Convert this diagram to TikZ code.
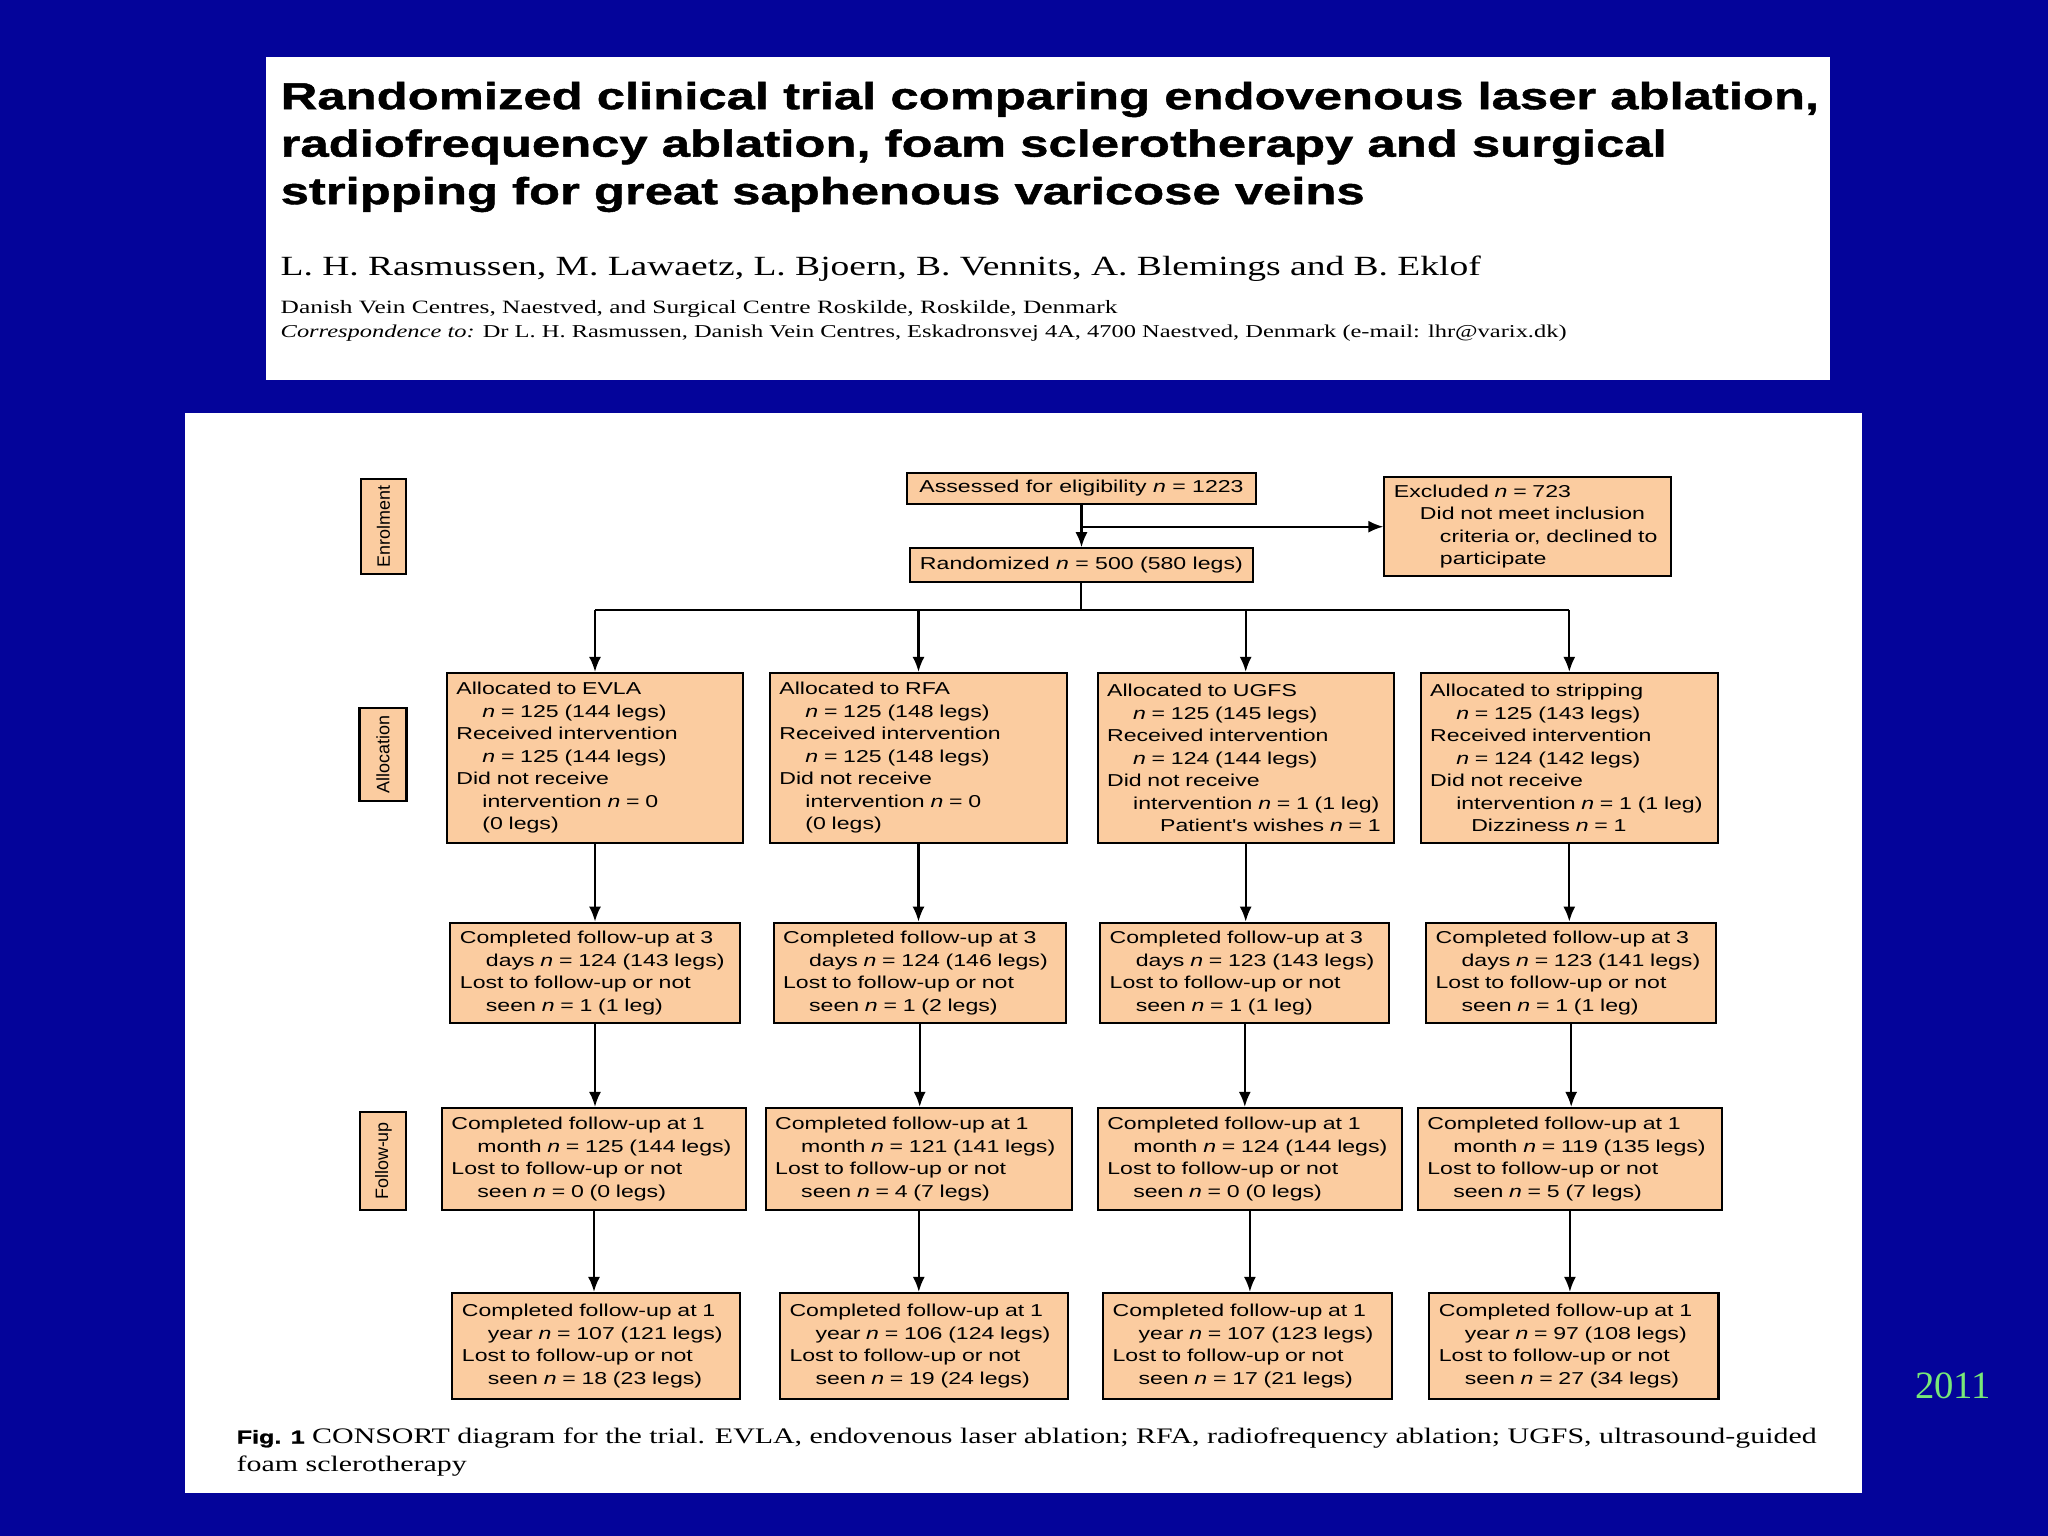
\documentclass[tikz,border=0pt]{standalone}
\usepackage{fontspec}
\usepackage{tikz}
\setmainfont{Liberation Serif}
\newfontfamily\headfont[FakeStretch=1.35, BoldFeatures={FakeBold=1.2}]{Liberation Sans}
\newfontfamily\boxfont[FakeStretch=1.34]{Liberation Sans}
\newfontfamily\paperfont[FakeStretch=1.35]{Liberation Serif}
\newfontfamily\sidefont{Liberation Sans}
\usetikzlibrary{arrows.meta}

\definecolor{slideblue}{RGB}{4,4,154}
\definecolor{peach}{RGB}{251,204,160}
\definecolor{yeargreen}{RGB}{120,232,120}

\newcommand{\nn}{\textit{n}}
\newcommand{\tabin}[1]{\mbox{\hspace*{0.26cm}#1}}

\begin{document}
\begin{tikzpicture}[x=0.01cm, y=-0.01cm,
    box/.style={draw, fill=peach, line width=0.6pt, align=left, inner xsep=0.095cm, inner ysep=0pt,
      font=\boxfont\fontsize{4.9}{6.4}\selectfont},
    stage/.style={draw, fill=peach, line width=0.6pt, rotate=90, inner sep=0pt,
      font=\sidefont\fontsize{5.1}{6}\selectfont},
    link/.style={line width=0.6pt},
    flow/.style={link, -{Latex[length=0.15cm, width=0.12cm]}}]
  % slide and the two white panels
  \fill[slideblue] (0,0) rectangle (2048,1536);
  \fill[white] (266,57) rectangle (1830,380);
  \fill[white] (185,413) rectangle (1862,1493);

  % paper header
  \node[anchor=west, align=left, inner sep=0pt, font=\headfont\bfseries\fontsize{10.7}{13.5}\selectfont] (title) at (280,147)
    {Randomized clinical trial comparing endovenous laser ablation,\\
     radiofrequency ablation, foam sclerotherapy and surgical\\
     stripping for great saphenous varicose veins};
  \node[anchor=west, inner sep=0pt, font=\paperfont\fontsize{7.9}{9}\selectfont] (authors) at (280,269)
    {L. H. Rasmussen, M. Lawaetz, L. Bjoern, B. Vennits, A. Blemings and B. Eklof};
  \node[anchor=west, inner sep=0pt, font=\paperfont\fontsize{5.35}{6.5}\selectfont] (affil) at (280,309)
    {Danish Vein Centres, Naestved, and Surgical Centre Roskilde, Roskilde, Denmark};
  \node[anchor=west, inner sep=0pt, font=\paperfont\fontsize{5.15}{6.5}\selectfont] (corresp) at (280,333)
    {\textit{Correspondence to:} Dr L. H. Rasmussen, Danish Vein Centres, Eskadronsvej 4A, 4700 Naestved, Denmark (e-mail: lhr@varix.dk)};

  % stage labels
  \node[stage, minimum width=0.947cm, minimum height=0.45cm] (enrol) at (383.5,526.7) {Enrolment};
  \node[stage, minimum width=0.924cm, minimum height=0.47cm] (allocation) at (383,754.5) {Allocation};
  \node[stage, minimum width=0.983cm, minimum height=0.46cm] (followup) at (383.4,1160.9) {Follow-up};

  % enrolment
  \node[box, align=center, minimum width=3.495cm, minimum height=0.313cm] (assess) at (1081.5,488.4)
    {Assessed for eligibility \nn{} = 1223};
  \node[box, align=center, minimum width=3.43cm, minimum height=0.34cm] (random) at (1081.4,565.3)
    {Randomized \nn{} = 500 (580 legs)};
  \node[box, text width=2.67cm, minimum height=0.987cm] (excl) at (1527.5,526.7)
    {Excluded \nn{} = 723\\ \tabin{Did not meet inclusion}\\ \tabin{\hspace*{0.2cm}criteria or, declined to}\\
     \tabin{\hspace*{0.2cm}participate}};

  % allocation
  \node[box, text width=2.77cm, minimum height=1.70cm] (evla) at (595,758)
    {Allocated to EVLA\\ \tabin{\nn{} = 125 (144 legs)}\\ Received intervention\\ \tabin{\nn{} = 125 (144 legs)}\\
     Did not receive\\ \tabin{intervention \nn{} = 0}\\ \tabin{(0 legs)}};
  \node[box, text width=2.78cm, minimum height=1.70cm] (rfa) at (918.5,758)
    {Allocated to RFA\\ \tabin{\nn{} = 125 (148 legs)}\\ Received intervention\\ \tabin{\nn{} = 125 (148 legs)}\\
     Did not receive\\ \tabin{intervention \nn{} = 0}\\ \tabin{(0 legs)}};
  \node[box, text width=2.77cm, minimum height=1.70cm] (ugfs) at (1245.7,758)
    {Allocated to UGFS\\ \tabin{\nn{} = 125 (145 legs)}\\ Received intervention\\ \tabin{\nn{} = 124 (144 legs)}\\
     Did not receive\\ \tabin{intervention \nn{} = 1 (1 leg)}\\ \tabin{\hspace*{0.27cm}Patient's wishes \nn{} = 1}};
  \node[box, text width=2.78cm, minimum height=1.70cm] (strip) at (1569.3,758)
    {Allocated to stripping\\ \tabin{\nn{} = 125 (143 legs)}\\ Received intervention\\ \tabin{\nn{} = 124 (142 legs)}\\
     Did not receive\\ \tabin{intervention \nn{} = 1 (1 leg)}\\ \tabin{\hspace*{0.15cm}Dizziness \nn{} = 1}};

  % follow-up at 3 days
  \node[box, text width=2.70cm, minimum height=1.006cm] (evladay) at (595,973)
    {Completed follow-up at 3\\ \tabin{days \nn{} = 124 (143 legs)}\\ Lost to follow-up or not\\ \tabin{seen \nn{} = 1 (1 leg)}};
  \node[box, text width=2.73cm, minimum height=1.006cm] (rfaday) at (919.7,973)
    {Completed follow-up at 3\\ \tabin{days \nn{} = 124 (146 legs)}\\ Lost to follow-up or not\\ \tabin{seen \nn{} = 1 (2 legs)}};
  \node[box, text width=2.70cm, minimum height=1.006cm] (ugfsday) at (1244.8,973)
    {Completed follow-up at 3\\ \tabin{days \nn{} = 123 (143 legs)}\\ Lost to follow-up or not\\ \tabin{seen \nn{} = 1 (1 leg)}};
  \node[box, text width=2.71cm, minimum height=1.006cm] (stripday) at (1571.2,973)
    {Completed follow-up at 3\\ \tabin{days \nn{} = 123 (141 legs)}\\ Lost to follow-up or not\\ \tabin{seen \nn{} = 1 (1 leg)}};

  % follow-up at 1 month
  \node[box, text width=2.85cm, minimum height=1.02cm] (evlamonth) at (594,1159)
    {Completed follow-up at 1\\ \tabin{month \nn{} = 125 (144 legs)}\\ Lost to follow-up or not\\ \tabin{seen \nn{} = 0 (0 legs)}};
  \node[box, text width=2.87cm, minimum height=1.02cm] (rfamonth) at (918.8,1159)
    {Completed follow-up at 1\\ \tabin{month \nn{} = 121 (141 legs)}\\ Lost to follow-up or not\\ \tabin{seen \nn{} = 4 (7 legs)}};
  \node[box, text width=2.85cm, minimum height=1.02cm] (ugfsmonth) at (1249.9,1159)
    {Completed follow-up at 1\\ \tabin{month \nn{} = 124 (144 legs)}\\ Lost to follow-up or not\\ \tabin{seen \nn{} = 0 (0 legs)}};
  \node[box, text width=2.85cm, minimum height=1.02cm] (stripmonth) at (1569.9,1159)
    {Completed follow-up at 1\\ \tabin{month \nn{} = 119 (135 legs)}\\ Lost to follow-up or not\\ \tabin{seen \nn{} = 5 (7 legs)}};

  % follow-up at 1 year
  \node[box, text width=2.68cm, minimum height=1.06cm] (evlayear) at (596,1346)
    {Completed follow-up at 1\\ \tabin{year \nn{} = 107 (121 legs)}\\ Lost to follow-up or not\\ \tabin{seen \nn{} = 18 (23 legs)}};
  \node[box, text width=2.69cm, minimum height=1.06cm] (rfayear) at (924.1,1346)
    {Completed follow-up at 1\\ \tabin{year \nn{} = 106 (124 legs)}\\ Lost to follow-up or not\\ \tabin{seen \nn{} = 19 (24 legs)}};
  \node[box, text width=2.70cm, minimum height=1.06cm] (ugfsyear) at (1247.7,1346)
    {Completed follow-up at 1\\ \tabin{year \nn{} = 107 (123 legs)}\\ Lost to follow-up or not\\ \tabin{seen \nn{} = 17 (21 legs)}};
  \node[box, text width=2.70cm, minimum height=1.06cm] (stripyear) at (1573.9,1346)
    {Completed follow-up at 1\\ \tabin{year \nn{} = 97 (108 legs)}\\ Lost to follow-up or not\\ \tabin{seen \nn{} = 27 (34 legs)}};

  % connectors
  \coordinate (fork) at (assess.south |- excl.west);
  \coordinate (bus) at (1081.4,610);
  \draw[flow] (assess.south) -- (assess.south |- random.north);
  \draw[flow] (fork) -- (excl.west);
  \draw[link] (random.south) -- (bus);
  \draw[link] (evla |- bus) -- (strip |- bus);
  \draw[flow] (evla |- bus) -- (evla.north);
  \draw[flow] (rfa |- bus) -- (rfa.north);
  \draw[flow] (ugfs |- bus) -- (ugfs.north);
  \draw[flow] (strip |- bus) -- (strip.north);
  \draw[flow] (evla.south) -- (evla.south |- evladay.north);
  \draw[flow] (rfa.south) -- (rfa.south |- rfaday.north);
  \draw[flow] (ugfs.south) -- (ugfs.south |- ugfsday.north);
  \draw[flow] (strip.south) -- (strip.south |- stripday.north);
  \draw[flow] (evladay.south) -- (evladay.south |- evlamonth.north);
  \draw[flow] (rfaday.south) -- (rfaday.south |- rfamonth.north);
  \draw[flow] (ugfsday.south) -- (ugfsday.south |- ugfsmonth.north);
  \draw[flow] (stripday.south) -- (stripday.south |- stripmonth.north);
  \draw[flow] (evlamonth.south) -- (evlamonth.south |- evlayear.north);
  \draw[flow] (rfamonth.south) -- (rfamonth.south |- rfayear.north);
  \draw[flow] (ugfsmonth.south) -- (ugfsmonth.south |- ugfsyear.north);
  \draw[flow] (stripmonth.south) -- (stripmonth.south |- stripyear.north);

  % caption and year
  \node[anchor=west, align=left, inner sep=0pt, font=\paperfont\fontsize{6.3}{7.9}\selectfont] (caption) at (236,1452)
    {{\headfont\bfseries\fontsize{5.3}{7.9}\selectfont Fig. 1} CONSORT diagram for the trial. EVLA, endovenous laser ablation; RFA, radiofrequency ablation; UGFS, ultrasound-guided\\
     foam sclerotherapy};
  \node[anchor=base, inner sep=0pt, text=yeargreen, font=\fontsize{11}{13}\selectfont] (year) at (1953,1398) {2011};
\end{tikzpicture}
\end{document}
